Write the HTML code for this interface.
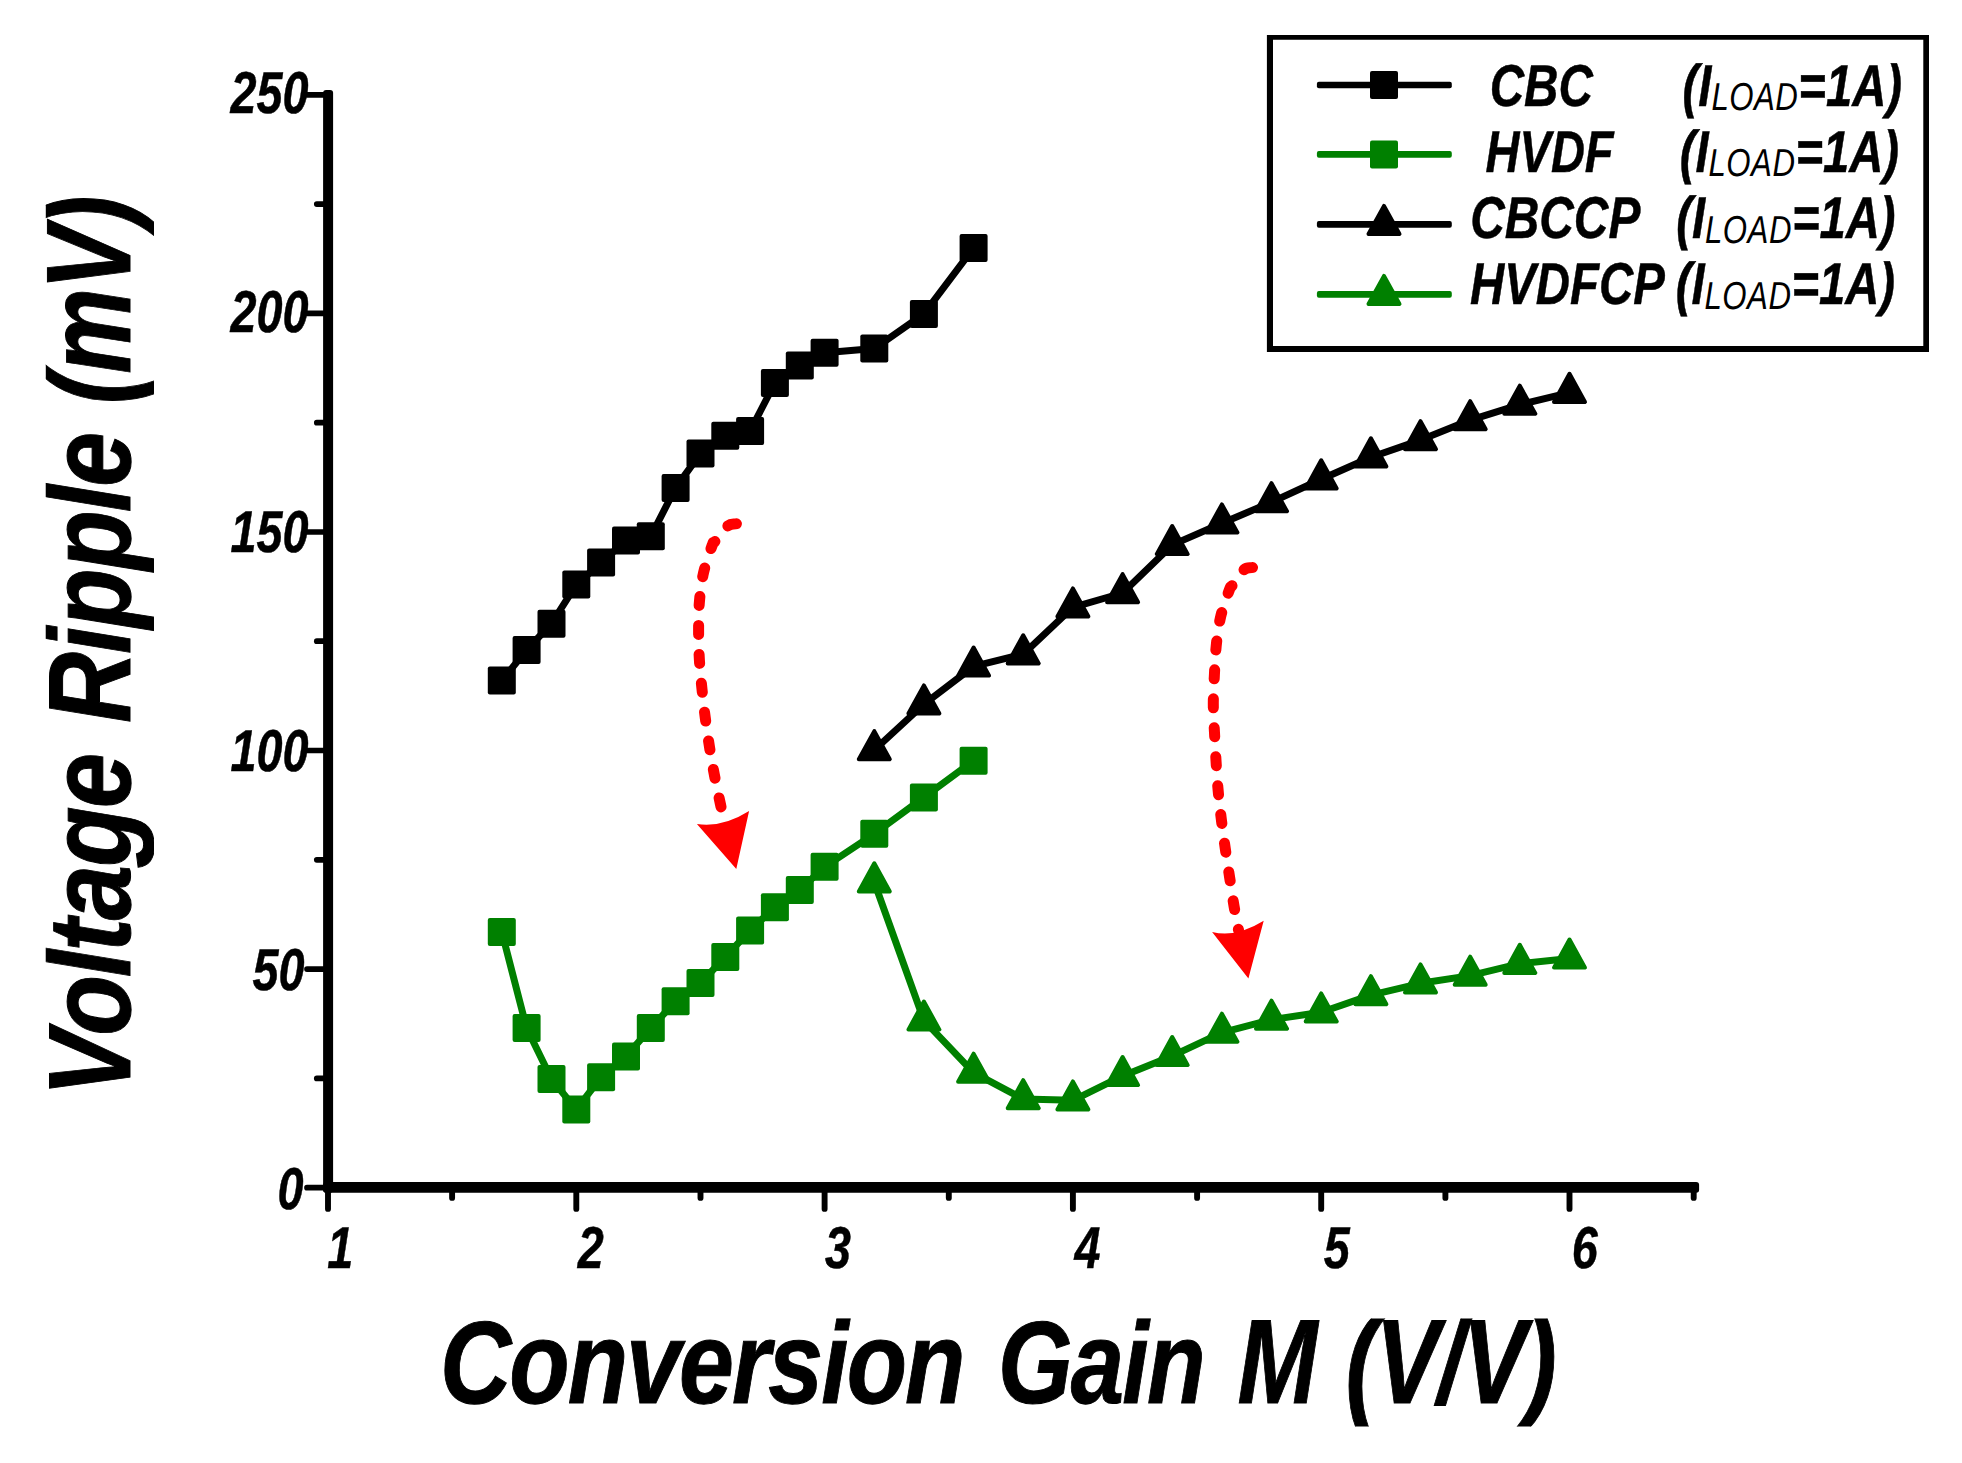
<!DOCTYPE html>
<html lang="en"><head><meta charset="utf-8"><title>Voltage Ripple vs Conversion Gain</title>
<style>html,body{margin:0;padding:0;background:#fff;}body{width:1962px;height:1463px;overflow:hidden;}svg{display:block;}text{font-family:"Liberation Sans", sans-serif;font-weight:bold;font-style:italic;fill:#000;text-rendering:geometricPrecision;}.sub{font-weight:normal;}</style></head><body>
<svg width="1962" height="1463" viewBox="0 0 1962 1463">
<rect x="0" y="0" width="1962" height="1463" fill="#fff"/>
<g stroke="#000" fill="none">
<rect x="323.1" y="90" width="10" height="1102.8" rx="3" fill="#000" stroke="none"/>
<rect x="323.1" y="1182" width="1376" height="10.8" rx="3" fill="#000" stroke="none"/>
<line x1="307" y1="1187.7" x2="324" y2="1187.7" stroke-width="5.7" stroke-linecap="round"/>
<line x1="316.8" y1="1078.4" x2="324" y2="1078.4" stroke-width="5.7" stroke-linecap="round"/>
<line x1="307" y1="969.1" x2="324" y2="969.1" stroke-width="5.7" stroke-linecap="round"/>
<line x1="316.8" y1="859.8" x2="324" y2="859.8" stroke-width="5.7" stroke-linecap="round"/>
<line x1="307" y1="750.5" x2="324" y2="750.5" stroke-width="5.7" stroke-linecap="round"/>
<line x1="316.8" y1="641.2" x2="324" y2="641.2" stroke-width="5.7" stroke-linecap="round"/>
<line x1="307" y1="532.0" x2="324" y2="532.0" stroke-width="5.7" stroke-linecap="round"/>
<line x1="316.8" y1="422.7" x2="324" y2="422.7" stroke-width="5.7" stroke-linecap="round"/>
<line x1="307" y1="313.4" x2="324" y2="313.4" stroke-width="5.7" stroke-linecap="round"/>
<line x1="316.8" y1="204.1" x2="324" y2="204.1" stroke-width="5.7" stroke-linecap="round"/>
<line x1="307" y1="94.8" x2="324" y2="94.8" stroke-width="5.7" stroke-linecap="round"/>
<line x1="328.0" y1="1190" x2="328.0" y2="1208.9" stroke-width="5.9" stroke-linecap="round"/>
<line x1="452.1" y1="1190" x2="452.1" y2="1197.9" stroke-width="5.9" stroke-linecap="round"/>
<line x1="576.3" y1="1190" x2="576.3" y2="1208.9" stroke-width="5.9" stroke-linecap="round"/>
<line x1="700.5" y1="1190" x2="700.5" y2="1197.9" stroke-width="5.9" stroke-linecap="round"/>
<line x1="824.6" y1="1190" x2="824.6" y2="1208.9" stroke-width="5.9" stroke-linecap="round"/>
<line x1="948.8" y1="1190" x2="948.8" y2="1197.9" stroke-width="5.9" stroke-linecap="round"/>
<line x1="1072.9" y1="1190" x2="1072.9" y2="1208.9" stroke-width="5.9" stroke-linecap="round"/>
<line x1="1197.1" y1="1190" x2="1197.1" y2="1197.9" stroke-width="5.9" stroke-linecap="round"/>
<line x1="1321.2" y1="1190" x2="1321.2" y2="1208.9" stroke-width="5.9" stroke-linecap="round"/>
<line x1="1445.4" y1="1190" x2="1445.4" y2="1197.9" stroke-width="5.9" stroke-linecap="round"/>
<line x1="1569.5" y1="1190" x2="1569.5" y2="1208.9" stroke-width="5.9" stroke-linecap="round"/>
<line x1="1693.7" y1="1190" x2="1693.7" y2="1197.9" stroke-width="5.9" stroke-linecap="round"/>
</g>
<text transform="translate(303.6,1209.3) scale(0.792,1)" font-size="59" text-anchor="end" stroke="#000" stroke-width="0.5">0</text>
<text transform="translate(304.5,990.1) scale(0.792,1)" font-size="59" text-anchor="end" stroke="#000" stroke-width="0.5">50</text>
<text transform="translate(308.5,770.8) scale(0.792,1)" font-size="59" text-anchor="end" stroke="#000" stroke-width="0.5">100</text>
<text transform="translate(308.5,551.6) scale(0.792,1)" font-size="59" text-anchor="end" stroke="#000" stroke-width="0.5">150</text>
<text transform="translate(308.5,332.3) scale(0.792,1)" font-size="59" text-anchor="end" stroke="#000" stroke-width="0.5">200</text>
<text transform="translate(308.5,113.1) scale(0.792,1)" font-size="59" text-anchor="end" stroke="#000" stroke-width="0.5">250</text>
<text transform="translate(327.2,1267.8) scale(0.792,1)" font-size="59" stroke="#000" stroke-width="0.5">1</text>
<text transform="translate(577.7,1267.8) scale(0.792,1)" font-size="59" stroke="#000" stroke-width="0.5">2</text>
<text transform="translate(825.1,1267.8) scale(0.792,1)" font-size="59" stroke="#000" stroke-width="0.5">3</text>
<text transform="translate(1074.4,1267.8) scale(0.792,1)" font-size="59" stroke="#000" stroke-width="0.5">4</text>
<text transform="translate(1323.7,1267.8) scale(0.792,1)" font-size="59" stroke="#000" stroke-width="0.5">5</text>
<text transform="translate(1571.8,1267.8) scale(0.792,1)" font-size="59" stroke="#000" stroke-width="0.5">6</text>
<defs><clipPath id="cx"><rect x="0" y="1318.6" width="1962" height="107.8"/></clipPath><clipPath id="cy"><rect x="45.8" y="0" width="108.2" height="1463"/></clipPath></defs>
<g clip-path="url(#cx)">
<text transform="translate(440.00,1403.00) scale(0.8434,1)" font-size="117" stroke="#000" stroke-width="1" letter-spacing="-2.3">Conversion</text>
<text transform="translate(998.00,1403.00) scale(0.8195,1)" font-size="117" stroke="#000" stroke-width="1" letter-spacing="-2.3">Gain</text>
<text transform="translate(1237.40,1403.00) scale(0.8000,1)" font-size="120" stroke="#000" stroke-width="1" letter-spacing="-2.3">M</text>
<text transform="translate(1345.40,1403.00) scale(0.8001,1)" font-size="120" stroke="#000" stroke-width="1" letter-spacing="-2.3">(V/V)</text>
</g>
<g clip-path="url(#cy)">
<text transform="translate(130.20,1096.50) rotate(-90) scale(0.8492,1)" font-size="117" stroke="#000" stroke-width="1" letter-spacing="-2.3">Voltage</text>
<text transform="translate(130.20,723.00) rotate(-90) scale(0.8407,1)" font-size="117" stroke="#000" stroke-width="1" letter-spacing="-2.3">Ripple</text>
<text transform="translate(130.20,404.00) rotate(-90) scale(0.8021,1)" font-size="120" stroke="#000" stroke-width="1" letter-spacing="-2.3">(mV)</text>
</g>
<polyline points="501.8,680.6 526.6,650.0 551.5,623.7 576.3,584.6 601.1,562.6 626.0,540.5 650.8,536.3 675.6,487.9 700.5,453.4 725.3,435.7 750.1,431.0 774.9,383.0 799.8,365.6 824.6,352.8 874.3,348.6 923.9,313.9 973.6,247.9" fill="none" stroke="#000" stroke-width="7" stroke-linejoin="round"/>
<rect x="487.8" y="666.6" width="28" height="28" rx="2" fill="#000"/>
<rect x="512.6" y="636.0" width="28" height="28" rx="2" fill="#000"/>
<rect x="537.5" y="609.7" width="28" height="28" rx="2" fill="#000"/>
<rect x="562.3" y="570.6" width="28" height="28" rx="2" fill="#000"/>
<rect x="587.1" y="548.6" width="28" height="28" rx="2" fill="#000"/>
<rect x="612.0" y="526.5" width="28" height="28" rx="2" fill="#000"/>
<rect x="636.8" y="522.3" width="28" height="28" rx="2" fill="#000"/>
<rect x="661.6" y="473.9" width="28" height="28" rx="2" fill="#000"/>
<rect x="686.5" y="439.4" width="28" height="28" rx="2" fill="#000"/>
<rect x="711.3" y="421.7" width="28" height="28" rx="2" fill="#000"/>
<rect x="736.1" y="417.0" width="28" height="28" rx="2" fill="#000"/>
<rect x="760.9" y="369.0" width="28" height="28" rx="2" fill="#000"/>
<rect x="785.8" y="351.6" width="28" height="28" rx="2" fill="#000"/>
<rect x="810.6" y="338.8" width="28" height="28" rx="2" fill="#000"/>
<rect x="860.3" y="334.6" width="28" height="28" rx="2" fill="#000"/>
<rect x="909.9" y="299.9" width="28" height="28" rx="2" fill="#000"/>
<rect x="959.6" y="233.9" width="28" height="28" rx="2" fill="#000"/>
<polyline points="501.8,931.9 526.6,1028.0 551.5,1079.0 576.3,1109.6 601.1,1077.2 626.0,1056.4 650.8,1028.0 675.6,1001.3 700.5,983.0 725.3,957.0 750.1,930.4 774.9,907.2 799.8,890.0 824.6,866.8 874.3,833.8 923.9,797.4 973.6,760.7" fill="none" stroke="#008000" stroke-width="7" stroke-linejoin="round"/>
<rect x="487.8" y="917.9" width="28" height="28" rx="2" fill="#008000"/>
<rect x="512.6" y="1014.0" width="28" height="28" rx="2" fill="#008000"/>
<rect x="537.5" y="1065.0" width="28" height="28" rx="2" fill="#008000"/>
<rect x="562.3" y="1095.6" width="28" height="28" rx="2" fill="#008000"/>
<rect x="587.1" y="1063.2" width="28" height="28" rx="2" fill="#008000"/>
<rect x="612.0" y="1042.4" width="28" height="28" rx="2" fill="#008000"/>
<rect x="636.8" y="1014.0" width="28" height="28" rx="2" fill="#008000"/>
<rect x="661.6" y="987.3" width="28" height="28" rx="2" fill="#008000"/>
<rect x="686.5" y="969.0" width="28" height="28" rx="2" fill="#008000"/>
<rect x="711.3" y="943.0" width="28" height="28" rx="2" fill="#008000"/>
<rect x="736.1" y="916.4" width="28" height="28" rx="2" fill="#008000"/>
<rect x="760.9" y="893.2" width="28" height="28" rx="2" fill="#008000"/>
<rect x="785.8" y="876.0" width="28" height="28" rx="2" fill="#008000"/>
<rect x="810.6" y="852.8" width="28" height="28" rx="2" fill="#008000"/>
<rect x="860.3" y="819.8" width="28" height="28" rx="2" fill="#008000"/>
<rect x="909.9" y="783.4" width="28" height="28" rx="2" fill="#008000"/>
<rect x="959.6" y="746.7" width="28" height="28" rx="2" fill="#008000"/>
<polyline points="874.3,750.0 923.9,704.3 973.6,666.4 1023.2,654.2 1072.9,607.3 1122.6,593.0 1172.2,544.9 1221.9,523.3 1271.5,502.1 1321.2,479.2 1370.9,457.2 1420.5,440.1 1470.2,420.1 1519.8,404.6 1569.5,392.7" fill="none" stroke="#000" stroke-width="7" stroke-linejoin="round"/>
<polygon points="874.3,731.1 889.8,759.2 858.8,759.2" fill="#000" stroke="#000" stroke-width="4" stroke-linejoin="round"/>
<polygon points="923.9,685.4 939.4,713.5 908.4,713.5" fill="#000" stroke="#000" stroke-width="4" stroke-linejoin="round"/>
<polygon points="973.6,647.5 989.1,675.6 958.1,675.6" fill="#000" stroke="#000" stroke-width="4" stroke-linejoin="round"/>
<polygon points="1023.2,635.3 1038.7,663.4 1007.7,663.4" fill="#000" stroke="#000" stroke-width="4" stroke-linejoin="round"/>
<polygon points="1072.9,588.4 1088.4,616.5 1057.4,616.5" fill="#000" stroke="#000" stroke-width="4" stroke-linejoin="round"/>
<polygon points="1122.6,574.1 1138.1,602.2 1107.1,602.2" fill="#000" stroke="#000" stroke-width="4" stroke-linejoin="round"/>
<polygon points="1172.2,526.0 1187.7,554.1 1156.7,554.1" fill="#000" stroke="#000" stroke-width="4" stroke-linejoin="round"/>
<polygon points="1221.9,504.4 1237.4,532.5 1206.4,532.5" fill="#000" stroke="#000" stroke-width="4" stroke-linejoin="round"/>
<polygon points="1271.5,483.2 1287.0,511.3 1256.0,511.3" fill="#000" stroke="#000" stroke-width="4" stroke-linejoin="round"/>
<polygon points="1321.2,460.3 1336.7,488.4 1305.7,488.4" fill="#000" stroke="#000" stroke-width="4" stroke-linejoin="round"/>
<polygon points="1370.9,438.3 1386.4,466.4 1355.4,466.4" fill="#000" stroke="#000" stroke-width="4" stroke-linejoin="round"/>
<polygon points="1420.5,421.2 1436.0,449.3 1405.0,449.3" fill="#000" stroke="#000" stroke-width="4" stroke-linejoin="round"/>
<polygon points="1470.2,401.2 1485.7,429.3 1454.7,429.3" fill="#000" stroke="#000" stroke-width="4" stroke-linejoin="round"/>
<polygon points="1519.8,385.7 1535.3,413.8 1504.3,413.8" fill="#000" stroke="#000" stroke-width="4" stroke-linejoin="round"/>
<polygon points="1569.5,373.8 1585.0,401.9 1554.0,401.9" fill="#000" stroke="#000" stroke-width="4" stroke-linejoin="round"/>
<polyline points="874.3,882.2 923.9,1020.4 973.6,1072.6 1023.2,1099.1 1072.9,1100.3 1122.6,1075.9 1172.2,1055.9 1221.9,1032.6 1271.5,1019.6 1321.2,1012.3 1370.9,995.1 1420.5,983.3 1470.2,975.6 1519.8,963.7 1569.5,958.4" fill="none" stroke="#008000" stroke-width="7" stroke-linejoin="round"/>
<polygon points="874.3,863.3 889.8,891.4 858.8,891.4" fill="#008000" stroke="#008000" stroke-width="4" stroke-linejoin="round"/>
<polygon points="923.9,1001.5 939.4,1029.6 908.4,1029.6" fill="#008000" stroke="#008000" stroke-width="4" stroke-linejoin="round"/>
<polygon points="973.6,1053.7 989.1,1081.8 958.1,1081.8" fill="#008000" stroke="#008000" stroke-width="4" stroke-linejoin="round"/>
<polygon points="1023.2,1080.2 1038.7,1108.3 1007.7,1108.3" fill="#008000" stroke="#008000" stroke-width="4" stroke-linejoin="round"/>
<polygon points="1072.9,1081.4 1088.4,1109.5 1057.4,1109.5" fill="#008000" stroke="#008000" stroke-width="4" stroke-linejoin="round"/>
<polygon points="1122.6,1057.0 1138.1,1085.1 1107.1,1085.1" fill="#008000" stroke="#008000" stroke-width="4" stroke-linejoin="round"/>
<polygon points="1172.2,1037.0 1187.7,1065.1 1156.7,1065.1" fill="#008000" stroke="#008000" stroke-width="4" stroke-linejoin="round"/>
<polygon points="1221.9,1013.7 1237.4,1041.8 1206.4,1041.8" fill="#008000" stroke="#008000" stroke-width="4" stroke-linejoin="round"/>
<polygon points="1271.5,1000.7 1287.0,1028.8 1256.0,1028.8" fill="#008000" stroke="#008000" stroke-width="4" stroke-linejoin="round"/>
<polygon points="1321.2,993.4 1336.7,1021.5 1305.7,1021.5" fill="#008000" stroke="#008000" stroke-width="4" stroke-linejoin="round"/>
<polygon points="1370.9,976.2 1386.4,1004.3 1355.4,1004.3" fill="#008000" stroke="#008000" stroke-width="4" stroke-linejoin="round"/>
<polygon points="1420.5,964.4 1436.0,992.5 1405.0,992.5" fill="#008000" stroke="#008000" stroke-width="4" stroke-linejoin="round"/>
<polygon points="1470.2,956.7 1485.7,984.8 1454.7,984.8" fill="#008000" stroke="#008000" stroke-width="4" stroke-linejoin="round"/>
<polygon points="1519.8,944.8 1535.3,972.9 1504.3,972.9" fill="#008000" stroke="#008000" stroke-width="4" stroke-linejoin="round"/>
<polygon points="1569.5,939.5 1585.0,967.6 1554.0,967.6" fill="#008000" stroke="#008000" stroke-width="4" stroke-linejoin="round"/>
<path d="M736.4,523.8 C733.5,524.6 731.3,523.2 727.6,526.2 C724.0,529.2 717.2,538.6 714.6,541.8 C712.0,545.0 714.0,540.3 712.1,545.5 C710.2,550.7 705.6,563.5 703.5,572.9 C701.4,582.3 700.2,592.2 699.4,601.9 C698.6,611.6 698.6,621.3 698.6,631.0 C698.6,640.7 698.8,650.3 699.4,660.0 C700.0,669.7 701.0,679.5 702.0,689.2 C703.0,698.9 704.0,708.4 705.3,718.0 C706.5,727.6 708.0,737.5 709.5,747.0 C711.0,756.5 712.6,765.5 714.4,775.0 C716.2,784.5 719.0,797.5 720.4,804.0 C721.8,810.5 722.1,812.3 722.5,814.0" fill="none" stroke="#f00" stroke-width="11" stroke-linecap="round" stroke-dasharray="9 20"/>
<path d="M1252.5,567.5 C1249.6,568.3 1247.3,566.8 1243.8,569.9 C1240.4,572.9 1234.4,582.5 1232.0,585.8 C1229.6,589.1 1231.4,584.3 1229.5,589.5 C1227.6,594.7 1222.8,607.6 1220.6,617.0 C1218.4,626.4 1217.2,636.3 1216.2,646.0 C1215.2,655.7 1214.9,665.3 1214.4,675.0 C1213.9,684.7 1213.3,694.4 1213.3,704.0 C1213.3,713.6 1214.0,723.1 1214.5,732.8 C1215.0,742.5 1215.5,752.4 1216.1,762.1 C1216.7,771.8 1217.3,781.5 1218.2,791.1 C1219.1,800.7 1220.2,810.2 1221.4,819.8 C1222.6,829.4 1223.9,839.0 1225.3,848.7 C1226.7,858.4 1228.2,868.2 1229.7,877.8 C1231.2,887.4 1232.6,897.8 1234.1,906.5 C1235.6,915.2 1237.8,926.1 1238.5,930.0" fill="none" stroke="#f00" stroke-width="11" stroke-linecap="round" stroke-dasharray="9 20"/>
<path d="M696.9,824 Q722,828 749.1,811 L736.3,869 Z" fill="#f00"/>
<path d="M1212.1,931.9 Q1236,938 1263.7,920.8 L1248.4,978.6 Z" fill="#f00"/>
<path d="M1266.9,34.9 H1929 V351.9 H1266.9 Z M1273,39.8 V345.9 H1923.3 V39.8 Z" fill="#000" fill-rule="evenodd"/>
<rect x="1316.9" y="81.70" width="134.9" height="6.6" rx="2" fill="#000"/>
<rect x="1370.0" y="71.0" width="28" height="28" rx="2" fill="#000"/>
<rect x="1316.9" y="151.10" width="134.9" height="6.6" rx="2" fill="#008000"/>
<rect x="1370.0" y="140.4" width="28" height="28" rx="2" fill="#008000"/>
<rect x="1316.9" y="221.10" width="134.9" height="6.6" rx="2" fill="#000"/>
<polygon points="1384.0,205.9 1399.5,234.0 1368.5,234.0" fill="#000" stroke="#000" stroke-width="4" stroke-linejoin="round"/>
<rect x="1316.9" y="291.10" width="134.9" height="6.6" rx="2" fill="#008000"/>
<polygon points="1384.0,275.9 1399.5,304.0 1368.5,304.0" fill="#008000" stroke="#008000" stroke-width="4" stroke-linejoin="round"/>
<text transform="translate(1489.70,105.60) scale(0.8065,1)" font-size="59" stroke="#000" stroke-width="0.5">CBC</text>
<text transform="translate(1682.6,105.6) scale(0.800,1)" font-size="59" stroke="#000" stroke-width="0.5">(I<tspan class="sub" font-size="39" dy="4.3" letter-spacing="0.6" stroke="none">LOAD</tspan><tspan dy="-4.3">=1A)</tspan></text>
<text transform="translate(1485.60,171.90) scale(0.7966,1)" font-size="59" stroke="#000" stroke-width="0.5">HVDF</text>
<text transform="translate(1679.7,171.9) scale(0.800,1)" font-size="59" stroke="#000" stroke-width="0.5">(I<tspan class="sub" font-size="39" dy="4.3" letter-spacing="0.6" stroke="none">LOAD</tspan><tspan dy="-4.3">=1A)</tspan></text>
<text transform="translate(1470.20,238.20) scale(0.8110,1)" font-size="59" stroke="#000" stroke-width="0.5">CBCCP</text>
<text transform="translate(1676.2,238.2) scale(0.800,1)" font-size="59" stroke="#000" stroke-width="0.5">(I<tspan class="sub" font-size="39" dy="4.3" letter-spacing="0.6" stroke="none">LOAD</tspan><tspan dy="-4.3">=1A)</tspan></text>
<text transform="translate(1470.00,304.30) scale(0.8030,1)" font-size="59" stroke="#000" stroke-width="0.5">HVDFCP</text>
<text transform="translate(1675.7,304.3) scale(0.800,1)" font-size="59" stroke="#000" stroke-width="0.5">(I<tspan class="sub" font-size="39" dy="4.3" letter-spacing="0.6" stroke="none">LOAD</tspan><tspan dy="-4.3">=1A)</tspan></text>
</svg></body></html>
